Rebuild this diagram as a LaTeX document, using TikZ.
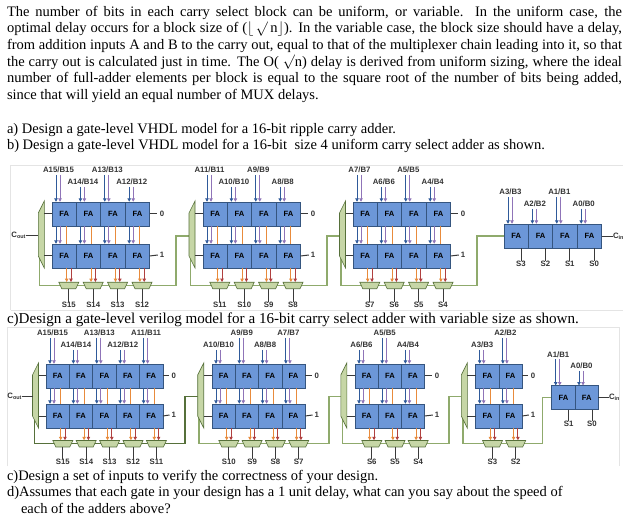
\documentclass[tikz,border=0pt]{standalone}
\usepackage{fontspec}
\setmainfont{Liberation Serif}
\setsansfont{Liberation Sans}
\usepackage{xcolor}
\usepackage{tikz}
\usetikzlibrary{arrows.meta, positioning, shapes.geometric, backgrounds}
\definecolor{fablue}{HTML}{6C97D8}
\definecolor{faedge}{HTML}{35557F}
\definecolor{muxfill}{HTML}{C6D6A6}
\definecolor{muxedge}{HTML}{56703A}
\definecolor{carrygreen}{HTML}{8FAA6C}
\definecolor{busa}{HTML}{2F5A9A}
\definecolor{busb}{HTML}{8F74B8}
\definecolor{sumorange}{HTML}{E88B3C}
\definecolor{sumred}{HTML}{B0403F}
\definecolor{wiregray}{HTML}{3A3A3A}
\definecolor{framegray}{HTML}{E4E4E4}

% one pair of full adders with its sum mux
\newcommand{\dualcell}[4]{%
  \node[facell, anchor=north west] (#1u#2) at (#3,\rowu) {FA};
  \node[facell, anchor=north west] (#1l#2) at (#3,\rowl) {FA};
  \node[bitlabel] (#1t#2) at ({#3+6.5},{#4-5}) {A#2/B#2};
  \coordinate (#1a#2) at ({#3+4},#4);
  \coordinate (#1b#2) at ({#3+8},#4);
  \coordinate (#1c#2) at ({#3+14.7},\rowu);
  \coordinate (#1d#2) at ({#3+19},\rowu);
  \node[smallmux] (#1m#2) at ({#3+16.8},\rowm) {};
  \node[bitlabel] (#1s#2) at ({#3+16.8},\rows) {S#2};
  \draw[abus] (#1a#2) -- (#1a#2 |- #1u#2.north);
  \draw[bbus] (#1b#2) -- (#1b#2 |- #1u#2.north);
  \draw[abus] (#1a#2 |- #1u#2.south) -- (#1a#2 |- #1l#2.north);
  \draw[bbus] (#1b#2 |- #1u#2.south) -- (#1b#2 |- #1l#2.north);
  \draw[sumo] (#1c#2 |- #1u#2.south) -- (#1c#2 |- #1l#2.north);
  \draw[sumo, -{Latex[length=3.6pt,width=4pt]}] (#1c#2 |- #1l#2.south) -- (#1c#2 |- #1m#2.south);
  \draw[sumr] (#1d#2 |- #1l#2.south) -- (#1d#2 |- #1m#2.south);
  \draw[sumline] (#1m#2.north) -- (#1s#2.north);
}
% one full adder of the lowest block
\newcommand{\singlecell}[4]{%
  \node[facell, anchor=north west] (#1u#2) at (#3,\rowu) {FA};
  \node[bitlabel] (#1t#2) at ({#3+6.5},{#4-5}) {A#2/B#2};
  \coordinate (#1a#2) at ({#3+4},#4);
  \coordinate (#1b#2) at ({#3+8},#4);
  \node[bitlabel] (#1s#2) at ({#3+17},\rows) {S#2};
  \draw[abus] (#1a#2) -- (#1a#2 |- #1u#2.north);
  \draw[bbus] (#1b#2) -- (#1b#2 |- #1u#2.north);
  \draw[sumline] (#1s#2.north |- #1u#2.south) -- (#1s#2.north);
}

\begin{document}
\begin{tikzpicture}[
  x=1pt, y=-1pt,
  every node/.style={font=\fontsize{14.5}{16.6}\selectfont, inner sep=0pt, outer sep=0pt},
  facell/.style={rectangle, draw=faedge, fill=fablue, line width=0.8pt,
              minimum width=\cellw, minimum height=24pt, font=\sffamily\bfseries\fontsize{7.6}{8}\selectfont},
  bitlabel/.style={font=\sffamily\bfseries\fontsize{7.8}{8}\selectfont, text=black!80},
  wirelabel/.style={font=\sffamily\bfseries\fontsize{7.8}{8}\selectfont, text=black!80},
  bigmux/.style={trapezium, rotate=90, trapezium angle=26.6,
              draw=muxedge, fill=muxfill, line width=0.6pt, inner xsep=21.5pt, inner ysep=3pt},
  smallmux/.style={trapezium, rotate=180, trapezium angle=65,
              draw=muxedge, fill=muxfill, line width=0.6pt, inner xsep=7pt, inner ysep=3.25pt},
  abus/.style={draw=busa, line width=1pt, -{Latex[length=3.6pt,width=4pt]}},
  bbus/.style={draw=busb, line width=1pt, -{Latex[length=3.6pt,width=4pt]}},
  sumo/.style={draw=sumorange, line width=1pt},
  sumr/.style={draw=sumred, line width=1pt, -{Latex[length=3.6pt,width=4pt]}},
  sumline/.style={draw=wiregray, line width=1pt},
  stub/.style={draw=wiregray, line width=1pt},
  carry/.style={draw=carrygreen, line width=1.1pt},
]
  \useasboundingbox (0,0) rectangle (637,526);

  \node[anchor=north west, text width=615pt, align=justify] (intro) at (7,6) {%
    The number of bits in each carry select block can be uniform, or variable. In the uniform case, the\linebreak
    optimal delay occurs for a block size of ($\lfloor\,\surd\,$n$\rfloor$). In the variable case, the block size should have a delay,\linebreak
    from addition inputs A and B to the carry out, equal to that of the multiplexer chain leading into it, so that\linebreak
    the carry out is calculated just in time. The O( $\surd$n) delay is derived from uniform sizing, where the ideal\linebreak
    number of full-adder elements per block is equal to the square root of the number of bits being added,\linebreak
    since that will yield an equal number of MUX delays.\par};
  \node[anchor=north west, align=left] (parta) at (7,123) {%
    a) Design a gate-level VHDL model for a 16-bit ripple carry adder.\\
    b) Design a gate-level VHDL model for a 16-bit\ \ size 4 uniform carry select adder as shown.};
  \node[anchor=north west, align=left, font=\fontsize{15.1}{17}\selectfont] (partc) at (7,313) {%
    c)Design a gate-level verilog model for a 16-bit carry select adder with variable size as shown.};
  \node[anchor=north west, align=left] (partd) at (7,470) {%
    c)Design a set of inputs to verify the correctness of your design.\\
    d)Assumes that each gate in your design has a 1 unit delay, what can you say about the speed of\\
    \hspace*{14pt}each of the adders above?};

  % uniform adder
  \def\cellw{24.4pt}\def\rowu{202}\def\rowl{244}\def\rowm{285.5}\def\rows{305}
  \foreach \bit/\lft/\tp in {15/52/175, 14/76.4/187, 13/100.8/175, 12/125.2/187,
      11/203/175, 10/227.4/187, 9/251.8/175, 8/276.2/187,
      7/353/175, 6/377.4/187, 5/401.8/175, 4/426.2/187}
    {\dualcell{e}{\bit}{\lft}{\tp}}
  \def\rowu{224}\def\rows{264}
  \foreach \bit/\lft/\tp in {3/504/197, 2/528.4/209, 1/552.8/197, 0/577.2/209}
    {\singlecell{e}{\bit}{\lft}{\tp}}

  \node[bigmux] (emuxa) at (41.3,234.5) {};
  \node[bigmux] (emuxb) at (192,234.5) {};
  \node[bigmux] (emuxc) at (342.5,234.5) {};
  \node[wirelabel, anchor=east] (ecout) at (26,235.5) {C\textsubscript{out}};
  \draw[stub] (ecout) -- (ecout -| emuxa.north);
  \node[wirelabel, anchor=west] (ecin) at (613,236.5) {C\textsubscript{in}};
  \draw[stub] (eu0.east |- ecin) -- (ecin);

  \foreach \blk/\hi/\lo/\lbx in {a/15/12/162, b/11/8/313, c/7/4/463} {
    \draw[stub] (eu\hi.west) -- (eu\hi.west -| emux\blk.south);
    \draw[stub] (el\hi.west) -- (el\hi.west -| emux\blk.south);
    \node[wirelabel] (ez\blk) at (\lbx,214) {0};
    \node[wirelabel] (eo\blk) at (\lbx,255) {1};
    \draw[stub] (eu\lo.east) -- ([xshift=-3pt]ez\blk.west);
    \draw[stub] (el\lo.east) -- ([xshift=-2pt]eo\blk.west);
  }

  \coordinate (eca) at (39.5,258);
  \coordinate (ecb) at (190.3,258);
  \coordinate (ecc) at (341,258);
  \coordinate (eta) at (176,285.5);
  \coordinate (etb) at (327,285.5);
  \coordinate (etc) at (477,285.5);
  \coordinate (eea) at (189,236);
  \coordinate (eeb) at (339.5,236);

  % variable adder
  \def\cellw{23.35pt}\def\rowu{364}\def\rowl{404}\def\rowm{443.7}\def\rows{462}
  \foreach \bit/\lft/\tp in {15/46/338, 14/69.4/350, 13/92.8/338, 12/116.2/350, 11/139.6/338,
      10/212/350, 9/235.3/338, 8/258.6/350, 7/281.9/338,
      6/355/350, 5/378.2/338, 4/401.4/350,
      3/475.7/350, 2/498.9/338}
    {\dualcell{v}{\bit}{\lft}{\tp}}
  \def\rowu{385.7}\def\rows{423.7}
  \foreach \bit/\lft/\tp in {1/551.7/359.3, 0/575/371}
    {\singlecell{v}{\bit}{\lft}{\tp}}

  \node[bigmux, inner xsep=20.5pt] (vmuxa) at (35.5,395.5) {};
  \node[bigmux, inner xsep=20.5pt] (vmuxb) at (200.7,395.5) {};
  \node[bigmux, inner xsep=20.5pt] (vmuxc) at (343.8,395.5) {};
  \node[bigmux, inner xsep=20.5pt] (vmuxd) at (464.3,395.5) {};
  \node[wirelabel, anchor=east] (vcout) at (22,396.5) {C\textsubscript{out}};
  \draw[stub] (vcout) -- (vcout -| vmuxa.north);
  \node[wirelabel, anchor=west] (vcin) at (609,397) {C\textsubscript{in}};
  \draw[stub] (vu0.east |- vcin) -- (vcin);

  \foreach \blk/\hi/\lo/\lbx in {a/15/11/173.7, b/10/7/316.7, c/6/4/437, d/3/2/533} {
    \draw[stub] (vu\hi.west) -- (vu\hi.west -| vmux\blk.south);
    \draw[stub] (vl\hi.west) -- (vl\hi.west -| vmux\blk.south);
    \node[wirelabel] (vz\blk) at (\lbx,376) {0};
    \node[wirelabel] (vo\blk) at (\lbx,415) {1};
    \draw[stub] (vu\lo.east) -- ([xshift=-3pt]vz\blk.west);
    \draw[stub] (vl\lo.east) -- ([xshift=-2pt]vo\blk.west);
  }

  \coordinate (vca) at (34.7,418);
  \coordinate (vcb) at (199,418);
  \coordinate (vcc) at (342.7,418);
  \coordinate (vcd) at (463,418);
  \coordinate (vta) at (185,443.7);
  \coordinate (vtb) at (329,443.7);
  \coordinate (vtc) at (449,443.7);
  \coordinate (vtd) at (542.7,443.7);
  \coordinate (vea) at (197.7,396.7);
  \coordinate (veb) at (340.7,396.7);
  \coordinate (vec) at (461,396.7);

  \begin{scope}[on background layer]
    \fill[white] (0,0) rectangle (637,526);
    \draw[framegray, line width=0.8pt] (10.7,310) -- (10.7,165) -- (623,165);
    \draw[framegray, line width=0.8pt] (10.7,310) -- (623,310);
    \draw[framegray, line width=0.8pt] (7.3,466) -- (7.3,327) -- (619,327) -- (619,466);
    \draw[carry] (eca) |- (eta) |- (eea);
    \draw[carry] (ecb) |- (etb) |- (eeb);
    \draw[carry] (ecc) |- (etc) |- (eu3.west);
    \draw[carry, muxedge] (vca) |- (vta) |- (vea);
    \draw[carry] (vcb) |- (vtb) |- (veb);
    \draw[carry] (vcc) |- (vtc) |- (vec);
    \draw[carry] (vcd) |- (vtd) |- (vu1.west);
  \end{scope}
\end{tikzpicture}
\end{document}
